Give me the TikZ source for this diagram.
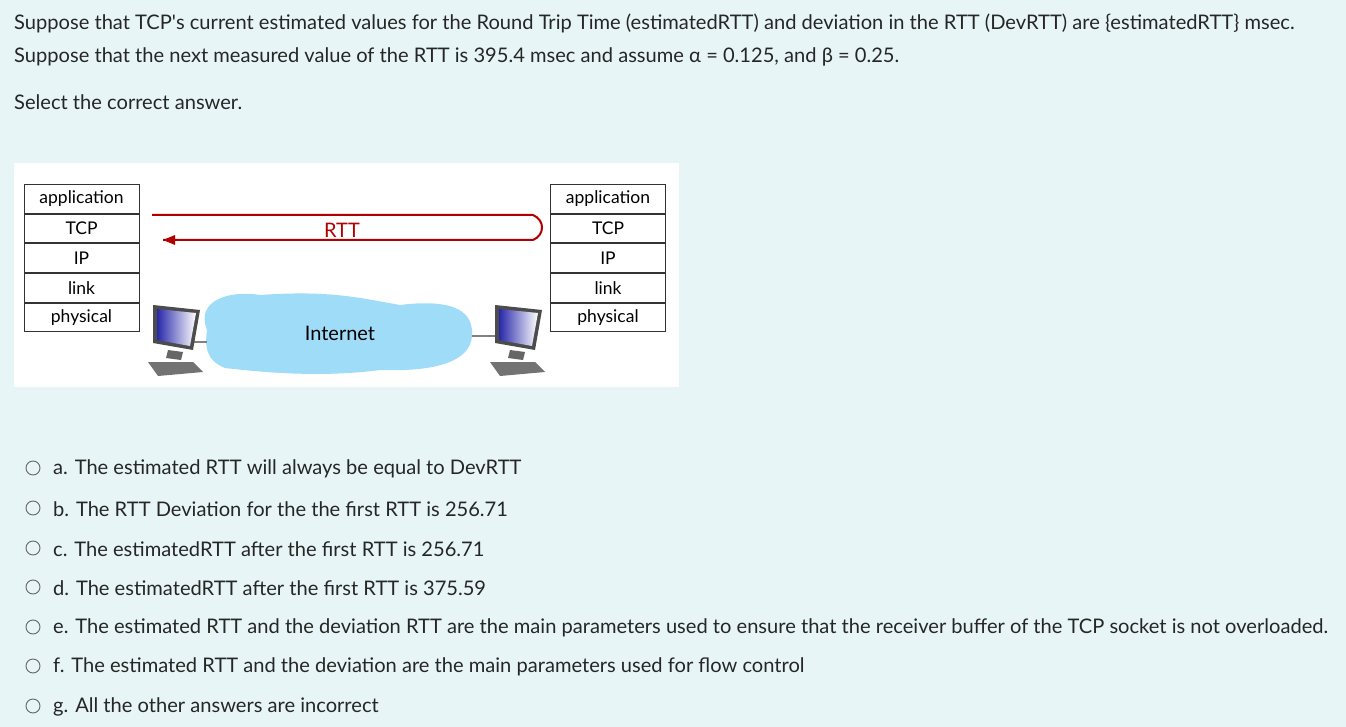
\documentclass[tikz,border=0pt]{standalone}
\usepackage{fontspec}
\setmainfont{Lato}
\begin{document}
\begin{tikzpicture}[x=1pt,y=-1pt,
  txt/.style={anchor=west,inner sep=0pt,font=\fontsize{20.1}{20}\selectfont,text=black!85},
  layer/.style={draw=black!80,line width=1pt,fill=white,minimum width=115pt,minimum height=28.6pt,inner sep=0pt,font=\fontsize{17.5}{17}\selectfont},
  radio/.style={circle,draw=black!60,line width=0.9pt,minimum size=14pt,inner sep=0pt},
  rtt/.style={draw=red!70!black,line width=2pt}]
\fill[fill={rgb,255:red,231;green,245;blue,246}] (0,0) rectangle (1346,727);
\useasboundingbox (0,0) rectangle (1346,727);
\node[txt] (l1) at (14,23) {Suppose that TCP\textquotesingle s current estimated values for the Round Trip Time (estimatedRTT) and deviation in the RTT (DevRTT) are \{estimatedRTT\} msec.};
\node[txt] (l2) at (14,57) {Suppose that the next measured value of the RTT is 395.4 msec and assume α = 0.125, and β = 0.25.};
\node[txt] (l3) at (14,102) {Select the correct answer.};
\fill[white] (14,163) rectangle (679,387);
% stacks
\foreach \side/\x in {L/81.5,R/608}{
  \node[layer] (\side a) at (\x,199) {application};
  \node[layer,anchor=north] (\side t) at (\side a.south) {TCP};
  \node[layer,anchor=north] (\side i) at (\side t.south) {IP};
  \node[layer,anchor=north] (\side k) at (\side i.south) {link};
  \node[layer,anchor=north] (\side p) at (\side k.south) {physical};
}
% RTT arrow
\coordinate (rs) at (152,215);
\coordinate (re) at (163,240);
\draw[rtt] (rs) -- (533,215) .. controls (545,220) and (545,235) .. (533,240) -- (re);
\fill[red!70!black] (163,240) -- (175,235) -- (175,245) -- cycle;
\node[font=\fontsize{20}{20}\selectfont,text=red!70!black] (rttl) at (342,230) {RTT};
% cloud
\fill[fill={rgb,255:red,158;green,220;blue,248}] (207,330) .. controls (195,300) and (230,290) .. (260,295) .. controls (330,290) and (360,298) .. (400,305) .. controls (440,300) and (470,305) .. (472,330) .. controls (475,360) and (440,372) .. (380,370) .. controls (320,378) and (260,372) .. (225,368) .. controls (205,360) and (205,345) .. (207,330) -- cycle;
\node[font=\fontsize{20}{20}\selectfont] (inet) at (340,333) {Internet};
% computers
\draw[gray,line width=1.5pt] (180,342) -- (207,342);
\draw[gray,line width=1.5pt] (472,336) -- (497,336);
\foreach \cx in {178,520}{
  \fill[black!70] (\cx-25,305) -- (\cx+22,310) -- (\cx+15,350) -- (\cx-25,343) -- cycle;
  \shade[left color={rgb,255:red,40;green,40;blue,170},right color=white] (\cx-21,309) -- (\cx+18,313) -- (\cx+12,346) -- (\cx-21,340) -- cycle;
  \fill[black!60] (\cx-10,350) -- (\cx+5,352) -- (\cx+3,360) -- (\cx-12,358) -- cycle;
  \fill[black!55] (\cx-30,362) -- (\cx+15,362) -- (\cx+25,372) -- (\cx-20,376) -- cycle;
}
% answers
\foreach \y/\t/\n in {469/{a. The estimated RTT will always be equal to DevRTT}/a,
  509/{b. The RTT Deviation for the the first RTT is 256.71}/b,
  549/{c. The estimatedRTT after the first RTT is 256.71}/c,
  588/{d. The estimatedRTT after the first RTT is 375.59}/d,
  628/{e. The estimated RTT and the deviation RTT are the main parameters used to ensure that the receiver buffer of the TCP socket is not overloaded.}/e,
  667/{f. The estimated RTT and the deviation are the main parameters used for flow control}/f,
  707/{g. All the other answers are incorrect}/g}{
  \node[radio] (r\n) at (33,\y-1) {};
  \node[txt] (t\n) at (53,\y) {\t};
}
\end{tikzpicture}
\end{document}
